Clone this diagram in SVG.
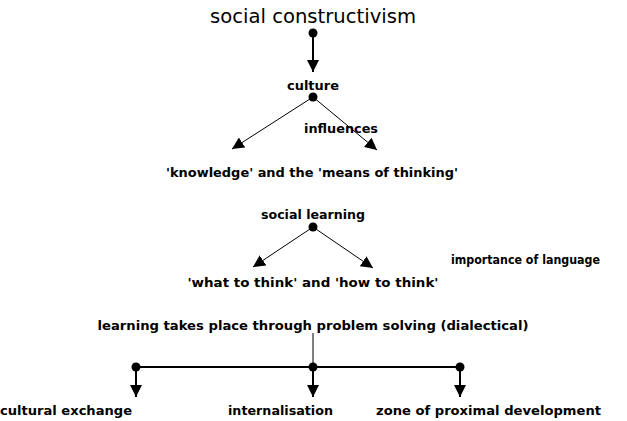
<svg xmlns="http://www.w3.org/2000/svg" width="627" height="421" viewBox="0 0 627 421">
<style>
text{font-family:"DejaVu Sans","Liberation Sans",sans-serif;font-weight:bold;font-size:13px;fill:#000}
.t{font-weight:normal;font-size:20px}
line{stroke:#000;stroke-width:1}
.th{stroke-width:2}
</style>
<defs>
<marker id="a2" viewBox="0 0 10 10" refX="10" refY="5" markerWidth="12" markerHeight="12" markerUnits="userSpaceOnUse" orient="auto"><path d="M0,0L10,5L0,10z" fill="#000"/></marker>
</defs>
<rect width="627" height="421" fill="#fff"/>
<g id="connectors">
<line class="th" x1="313" y1="33" x2="313" y2="72" marker-end="url(#a2)"/>
<line x1="313" y1="97" x2="232" y2="149" marker-end="url(#a2)"/>
<line x1="313" y1="97" x2="377" y2="150" marker-end="url(#a2)"/>
<line x1="313" y1="227" x2="253" y2="267" marker-end="url(#a2)"/>
<line x1="313" y1="227" x2="373" y2="268" marker-end="url(#a2)"/>
<line x1="313" y1="333" x2="313" y2="367"/>
<line class="th" x1="136" y1="367" x2="460" y2="367"/>
<line class="th" x1="136" y1="367" x2="136" y2="397" marker-end="url(#a2)"/>
<line class="th" x1="313" y1="367" x2="313" y2="397" marker-end="url(#a2)"/>
<line class="th" x1="460" y1="367" x2="460" y2="397" marker-end="url(#a2)"/>
<circle cx="313" cy="33" r="4.5"/>
<circle cx="313" cy="97" r="4.5"/>
<circle cx="313" cy="227" r="4.5"/>
<circle cx="136" cy="367" r="4.5"/>
<circle cx="313" cy="367" r="4.5"/>
<circle cx="460" cy="367" r="4.5"/>
</g>
<g id="n1"><text class="t" x="313" y="23" text-anchor="middle" textLength="206" lengthAdjust="spacingAndGlyphs">social constructivism</text></g>
<g id="n2"><text x="313" y="90" text-anchor="middle" textLength="52" lengthAdjust="spacingAndGlyphs">culture</text></g>
<g id="n3"><text x="341" y="133" text-anchor="middle" textLength="74" lengthAdjust="spacingAndGlyphs">influences</text></g>
<g id="n4"><text x="312" y="177" text-anchor="middle" textLength="292" lengthAdjust="spacingAndGlyphs">'knowledge' and the 'means of thinking'</text></g>
<g id="n5"><text x="313" y="219" text-anchor="middle" textLength="104" lengthAdjust="spacingAndGlyphs">social learning</text></g>
<g id="n6"><text x="451" y="264" textLength="149" lengthAdjust="spacingAndGlyphs">importance of language</text></g>
<g id="n7"><text x="313" y="287" text-anchor="middle" textLength="251" lengthAdjust="spacingAndGlyphs">'what to think' and 'how to think'</text></g>
<g id="n8"><text x="313" y="330" text-anchor="middle" textLength="431" lengthAdjust="spacingAndGlyphs">learning takes place through problem solving (dialectical)</text></g>
<g id="n9"><text x="0" y="415" textLength="132" lengthAdjust="spacingAndGlyphs">cultural exchange</text></g>
<g id="n10"><text x="228" y="415" textLength="105" lengthAdjust="spacingAndGlyphs">internalisation</text></g>
<g id="n11"><text x="376" y="415" textLength="225" lengthAdjust="spacingAndGlyphs">zone of proximal development</text></g>
</svg>
